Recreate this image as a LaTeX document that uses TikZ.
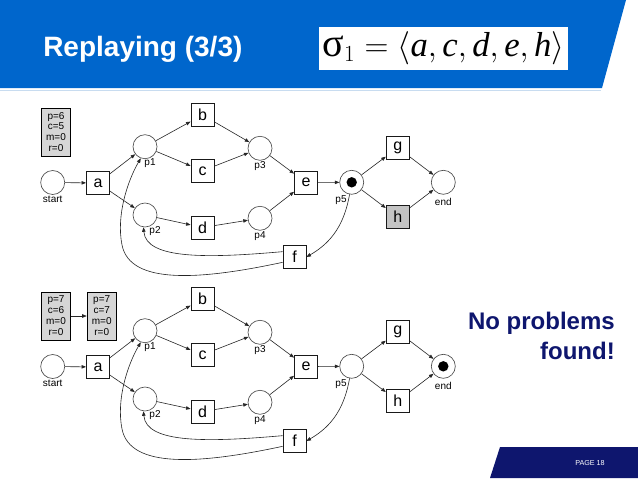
\documentclass[tikz,border=0pt]{standalone}
\usepackage{fontspec}
\setmainfont{Liberation Sans}
\newfontfamily\tnr{Liberation Serif}
\usetikzlibrary{arrows.meta}
\definecolor{banner}{RGB}{0,102,204}
\definecolor{navy}{RGB}{14,22,110}
\definecolor{boxgray}{RGB}{214,214,214}
\definecolor{hgray}{RGB}{196,196,196}
\definecolor{sepline}{RGB}{200,220,240}
\newcommand\ti[1]{\mbox{\tnr\itshape #1}}
\tikzset{
  place/.style={circle,draw=black!70,line width=0.5pt,minimum size=18pt,inner sep=0pt,fill=white},
  token/.style={path picture={\fill[black] (path picture bounding box.center) circle (3.9pt);}},
  trans/.style={rectangle,draw=black!90,line width=0.65pt,minimum size=17.25pt,inner sep=0pt,fill=white,font=\fontsize{12}{12}\selectfont},
  lab/.style={font=\fontsize{7.5}{8}\selectfont,inner sep=0pt},
  cnt/.style={rectangle,draw,line width=0.65pt,fill=boxgray,align=center,minimum width=21.75pt,minimum height=36pt,inner sep=1pt,font=\fontsize{7.5}{8.2}\selectfont},
  arr/.style={draw=black!85,line width=0.45pt,-{Triangle[length=3.4pt,width=2.6pt]}},
}
\newcommand\pnet[5]{%
\begin{scope}[shift={(0,#2)}]
\node[place] (#1start) at (52.7,182.5) {};
\node[place] (#1p1) at (145,146.7) {};
\node[place] (#1p2) at (145,215) {};
\node[place] (#1p3) at (260,148.3) {};
\node[place] (#1p4) at (260,218.3) {};
\node[place,#3] (#1p5) at (351.7,182.3) {};
\node[place,#4] (#1end) at (443.3,182.3) {};
\node[trans] (#1a) at (98,183) {a};
\node[trans] (#1b) at (202.5,115) {b};
\node[trans] (#1c) at (202.5,170.8) {c};
\node[trans] (#1d) at (202.5,227.5) {d};
\node[trans] (#1e) at (306,182.5) {e};
\node[trans] (#1f) at (294.5,257) {f};
\node[trans] (#1g) at (397.7,147.7) {g};
\node[trans,#5] (#1h) at (397.7,217) {h};
\node[lab] (#1lstart) at (52.7,199) {start};
\node[lab] (#1lp1) at (150,163.5) {p1};
\node[lab] (#1lp2) at (155,231.5) {p2};
\node[lab] (#1lp3) at (260,166) {p3};
\node[lab] (#1lp4) at (260,236.5) {p4};
\node[lab] (#1lp5) at (341,200.5) {p5};
\node[lab] (#1lend) at (443.3,201.5) {end};
\draw[arr] (#1start) -- (#1a);
\draw[arr] (#1a) -- (#1p1);
\draw[arr] (#1a) -- (#1p2);
\draw[arr] (#1p1) -- (#1b);
\draw[arr] (#1p1) -- (#1c);
\draw[arr] (#1p2) -- (#1d);
\draw[arr] (#1b) -- (#1p3);
\draw[arr] (#1c) -- (#1p3);
\draw[arr] (#1d) -- (#1p4);
\draw[arr] (#1p3) -- (#1e);
\draw[arr] (#1p4) -- (#1e);
\draw[arr] (#1e) -- (#1p5);
\draw[arr] (#1p5) -- (#1g);
\draw[arr] (#1p5) -- (#1h);
\draw[arr] (#1g) -- (#1end);
\draw[arr] (#1h) -- (#1end);
\draw[arr] (#1p5.-100) to[out=-100,in=30] (#1f.east);
\draw[arr] ([yshift=4pt]#1f.west) .. controls (210,258) and (146,260) .. (#1p2.-97);
\draw[arr] ([yshift=-4pt]#1f.west) .. controls (200,280) and (130,285) .. (122,245) .. controls (116,215) and (128,180) .. (#1p1.-110);
\end{scope}}
\begin{document}
\begin{tikzpicture}[x=0.75pt,y=-0.75pt]
\useasboundingbox (0,0) rectangle (638,478);
\fill[white] (0,0) rectangle (638,478);
% banner
\fill[banner] (0,0) -- (626,0) -- (602,88) -- (0,88) -- cycle;
\draw[sepline,line width=0.6pt] (0,90.5) -- (601,90.5);
\node[anchor=base west,text=white,inner sep=0pt,font=\bfseries\fontsize{21}{24}\selectfont] (title) at (43,56.7) {Replaying (3/3)};
\node[fill=white,minimum width=186.3pt,minimum height=32pt,inner sep=0pt] (sigbox) at (443.5,48.6) {};
\node[anchor=base,inner sep=0pt,font=\fontsize{26}{28}\selectfont] (sig) at (443.5,56.7) {$\mbox{\tnr\fontsize{30}{30}\selectfont σ}_{1} = \langle \ti{a},\ti{c},\ti{d},\ti{e},\ti{h}\rangle$};
% footer
\fill[navy] (500,447) -- (638,447) -- (638,478) -- (490,478) -- cycle;
\node[anchor=base,text=white,inner sep=0pt,font=\fontsize{5.4}{6}\selectfont] (page) at (590,465.5) {PAGE 18};
\node[anchor=base east,text=navy,inner sep=0pt,font=\bfseries\fontsize{18}{20}\selectfont] (np1) at (615,329) {No problems};
\node[anchor=base east,text=navy,inner sep=0pt,font=\bfseries\fontsize{18}{20}\selectfont] (np2) at (615,359) {found!};
% nets
\pnet{t}{0}{token}{}{fill=hgray}
\pnet{u}{184}{}{token}{}
\node[cnt] (tcnt) at (56,132) {p=6\\c=5\\m=0\\r=0};
\node[cnt] (ucnt1) at (56,316) {p=7\\c=6\\m=0\\r=0};
\node[cnt] (ucnt2) at (101.7,316) {p=7\\c=7\\m=0\\r=0};
\draw[arr] (ucnt1) -- (ucnt2);
\end{tikzpicture}
\end{document}
